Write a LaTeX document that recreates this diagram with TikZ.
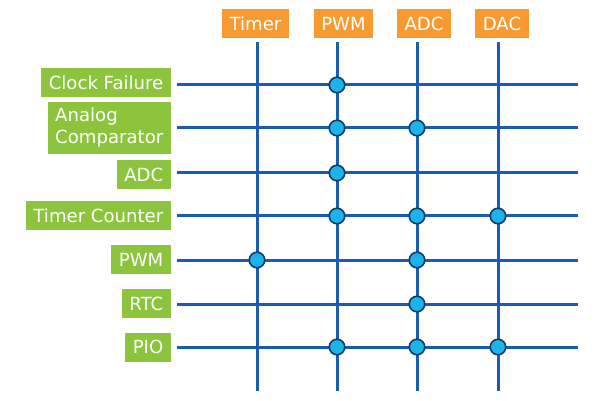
\documentclass[tikz,border=0pt]{standalone}
\usepackage{fontspec}
\setmainfont{DejaVu Sans}
\definecolor{orangebox}{HTML}{F79A32}
\definecolor{greenbox}{HTML}{8CC43E}
\definecolor{lineblue}{HTML}{1A5CB0}
\definecolor{dotfill}{HTML}{1AB4E8}
\definecolor{dotedge}{HTML}{173A6B}
\begin{document}
\begin{tikzpicture}[x=1pt,y=-1pt,
  labeltext/.style={text=white,font=\fontsize{18.1}{22}\selectfont,inner xsep=7.5pt,inner ysep=0pt,minimum height=29pt},
  topbox/.style={labeltext,fill=orangebox},
  sidebox/.style={labeltext,fill=greenbox,anchor=east,align=left},
  bus/.style={draw=lineblue,line width=3pt},
  joint/.style={circle,fill=dotfill,draw=dotedge,line width=1.6pt,minimum size=15.5pt,inner sep=0pt}]
\useasboundingbox (0,0) rectangle (595,401);
% top boxes
\node[topbox] (tTimer) at (255.5,23.5) {Timer};
\node[topbox] (tPWM) at (343.5,23.5) {PWM};
\node[topbox] (tADC) at (424,23.5) {ADC};
\node[topbox] (tDAC) at (502,23.5) {DAC};
% side boxes
\node[sidebox] (sClock) at (171,82.5) {Clock Failure};
\node[sidebox,minimum height=52pt] (sAnalog) at (171,128) {Analog\\Comparator};
\node[sidebox] (sADC) at (171,174.5) {ADC};
\node[sidebox] (sTC) at (171,215.5) {Timer Counter};
\node[sidebox] (sPWM) at (171,259.5) {PWM};
\node[sidebox] (sRTC) at (171,303.5) {RTC};
\node[sidebox] (sPIO) at (171,347) {PIO};
% vertical bus ends
\foreach \n/\x in {Timer/257,PWM/337,ADC/417,DAC/498}{
  \coordinate (v\n a) at (\x,42);
  \coordinate (v\n b) at (\x,391);
  \draw[bus] (v\n a) -- (v\n b);
}
% horizontal bus ends
\foreach \n/\y in {Clock/85,Analog/128,ADC/173,TC/216,PWM/260,RTC/304,PIO/347}{
  \coordinate (h\n a) at (177,\y);
  \coordinate (h\n b) at (578,\y);
  \draw[bus] (h\n a) -- (h\n b);
}
% joints
\foreach \r/\c in {Clock/PWM,Analog/PWM,Analog/ADC,ADC/PWM,TC/PWM,TC/ADC,TC/DAC,PWM/Timer,PWM/ADC,RTC/ADC,PIO/PWM,PIO/ADC,PIO/DAC}{
  \node[joint] (j\r\c) at (v\c a |- h\r a) {};
}
\end{tikzpicture}
\end{document}
